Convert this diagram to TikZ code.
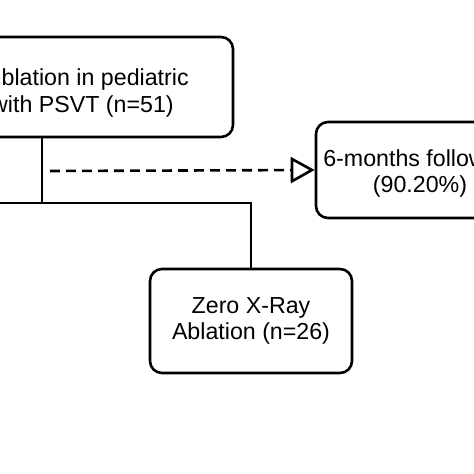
\documentclass[tikz,border=0pt]{standalone}
\usepackage{fontspec}
\setmainfont{Liberation Sans}
\usetikzlibrary{arrows.meta}

\begin{document}
\begin{tikzpicture}[x=1pt, y=-1pt, line width=2.6pt,
		box/.style={draw, rounded corners=12pt, inner sep=0pt},
		txt/.style={font=\fontsize{23.2}{26.5}\selectfont, inner sep=0pt}]
	\useasboundingbox (0,0) rectangle (474,474);
	\clip (0,0) rectangle (474,474);
	% boxes
	\node[box, minimum width=382pt, minimum height=100pt] (group) at (42,87) {};
	\node[txt, anchor=base east] (grouptop) at (190,85) {blation in pediatric};
	\node[txt, anchor=base east] (groupbot) at (175,112) {with PSVT (n=51)};
	\node[box, minimum width=208pt, minimum height=96pt] (follow) at (420,170) {};
	\node[txt, anchor=base west] (followtop) at (322,166) {6-months follow};
	\node[txt, anchor=base] (followbot) at (420,192) {(90.20\%)};
	\node[box, txt, align=center, minimum width=202pt, minimum height=104pt] (zero) at (251,321) {Zero X-Ray\\Ablation (n=26)};
	% connectors
	\coordinate (split) at (42,203);
	\coordinate (leftend) at (-60,203);
	\coordinate (tap) at (50,171);
	\draw (group.south) -- (split);
	\draw (leftend) -| (zero.north);
	\draw[dash pattern=on 10pt off 6pt, -{Triangle[open, length=24pt, width=26pt]}] (tap) -- (follow.west);
\end{tikzpicture}
\end{document}
